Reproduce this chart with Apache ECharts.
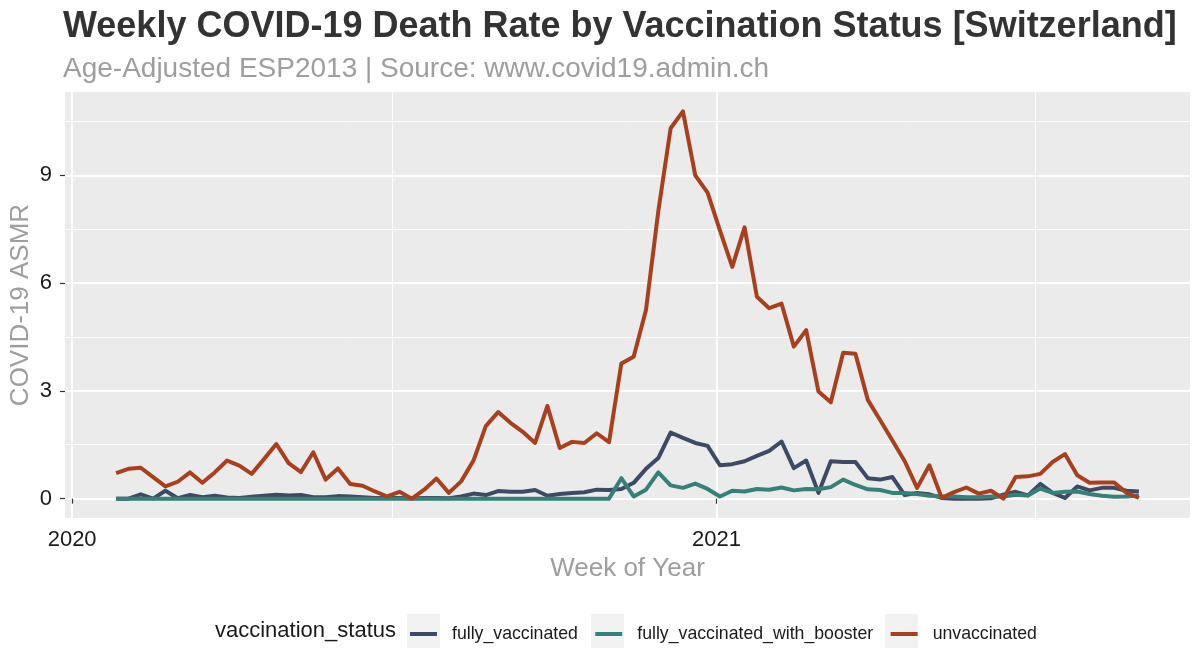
<!DOCTYPE html>
<html>
<head>
<meta charset="utf-8">
<script src="https://cdn.jsdelivr.net/npm/echarts@6/dist/echarts.min.js"></script>
<style>
  html, body { margin: 0; padding: 0; background: #fff; }
  #chart { width: 1200px; height: 670px; }
</style>
</head>
<body>
<div id="chart"></div>
<script>
// weekly series, first week starts 2020-01-26
const firstWeek = Date.UTC(2020, 0, 26);
const DAY = 86400000;

const fullyVaccinated = [
  0.00, 0.00, 0.12, 0.00, 0.22, 0.01, 0.10, 0.04, 0.08, 0.03,
  0.02, 0.05, 0.08, 0.11, 0.09, 0.10, 0.04, 0.04, 0.07, 0.06,
  0.04, 0.02, 0.02, 0.02, 0.01, 0.02, 0.02, 0.01, 0.06, 0.14,
  0.10, 0.21, 0.19, 0.19, 0.24, 0.08, 0.13, 0.16, 0.18, 0.25,
  0.24, 0.27, 0.44, 0.83, 1.13, 1.84, 1.69, 1.55, 1.47, 0.93,
  0.96, 1.04, 1.19, 1.33, 1.59, 0.85, 1.06, 0.16, 1.04, 1.02,
  1.02, 0.57, 0.53, 0.60, 0.10, 0.16, 0.12, 0.02, 0.00, 0.00,
  0.00, 0.01, 0.11, 0.19, 0.09, 0.41, 0.16, 0.02, 0.34, 0.23,
  0.30, 0.30, 0.22, 0.20
];

const withBooster = [
  0, 0, 0, 0, 0, 0, 0, 0, 0, 0,
  0, 0, 0, 0, 0, 0, 0, 0, 0, 0,
  0, 0, 0, 0, 0, 0, 0, 0, 0, 0,
  0, 0, 0, 0, 0, 0, 0, 0, 0, 0,
  0.00, 0.57, 0.06, 0.25, 0.73, 0.37, 0.30, 0.42, 0.27, 0.06,
  0.22, 0.20, 0.27, 0.25, 0.31, 0.23, 0.27, 0.26, 0.32, 0.53,
  0.38, 0.26, 0.24, 0.16, 0.16, 0.13, 0.08, 0.06, 0.06, 0.04,
  0.04, 0.06, 0.06, 0.11, 0.09, 0.28, 0.16, 0.19, 0.20, 0.13,
  0.08, 0.05, 0.06, 0.09
];

const unvaccinated = [
  0.71, 0.83, 0.86, 0.60, 0.34, 0.47, 0.73, 0.44, 0.73, 1.06,
  0.92, 0.69, 1.10, 1.52, 0.99, 0.74, 1.29, 0.53, 0.84, 0.41,
  0.36, 0.20, 0.06, 0.19, 0.00, 0.25, 0.56, 0.16, 0.48, 1.06,
  2.02, 2.41, 2.11, 1.86, 1.55, 2.58, 1.41, 1.58, 1.55, 1.82,
  1.57, 3.76, 3.95, 5.25, 8.00, 10.31, 10.78, 9.00, 8.52, 7.47,
  6.45, 7.55, 5.62, 5.30, 5.43, 4.23, 4.69, 2.98, 2.68, 4.06,
  4.03, 2.75, 2.19, 1.62, 1.04, 0.30, 0.93, 0.02, 0.18, 0.31,
  0.14, 0.22, 0.00, 0.60, 0.62, 0.69, 1.02, 1.24, 0.65, 0.44,
  0.45, 0.45, 0.16, 0.02
];

const weeks = unvaccinated.map((_, i) => firstWeek + i * 7 * DAY);

const seriesNames = ["fully_vaccinated", "fully_vaccinated_with_booster", "unvaccinated"];
const seriesColors = ["#3E4A64", "#368078", "#A8401E"];
const seriesValues = [fullyVaccinated, withBooster, unvaccinated];

const yTicks = [0, 3, 6, 9];
const yMinor = [1.5, 4.5, 7.5, 10.5];
const xTicks = [Date.UTC(2020, 0, 1), Date.UTC(2021, 0, 1)];
const xMinor = [Date.UTC(2020, 6, 1), Date.UTC(2021, 6, 1)];

// ggplot style 5% expansion
const xSpan = weeks[weeks.length - 1] - weeks[0];
const xMin = weeks[0] - xSpan * 0.05;
const xMax = weeks[weeks.length - 1] + xSpan * 0.05;
const yTop = Math.max(...unvaccinated);
const yMin = -yTop * 0.05;
const yMax = yTop * 1.05;

const font = "'Liberation Sans', Arial, Helvetica, sans-serif";
const chart = echarts.init(document.getElementById("chart"));

chart.setOption({
  animation: false,
  backgroundColor: "#fff",
  textStyle: { fontFamily: font },
  title: [
    {
      text: "Weekly COVID-19 Death Rate by Vaccination Status [Switzerland]",
      left: 58, top: 4,
      textStyle: { fontSize: 36, fontWeight: "bold", color: "#333", fontFamily: font }
    },
    {
      text: "Age-Adjusted ESP2013 | Source: www.covid19.admin.ch",
      left: 58, top: 50,
      textStyle: { fontSize: 28, fontWeight: "normal", color: "#9E9E9E", fontFamily: font }
    }
  ],
  grid: {
    left: 65, right: 10, top: 92, bottom: 152,
    outerBoundsMode: "none",
    show: true, backgroundColor: "#EBEBEB", borderWidth: 0
  },
  legend: {
    data: seriesNames,
    left: 405, top: 620,
    icon: "rect", itemWidth: 27, itemHeight: 4, itemGap: 17.4,
    textStyle: { fontSize: 17.7, color: "#1A1A1A", padding: [0, 0, 0, 10], fontFamily: font }
  },
  graphic: [
    { type: "text", left: 215, top: 620, z: 10,
      style: { text: "vaccination_status", fontSize: 22, fill: "#1A1A1A", fontFamily: font } },
    { type: "rect", shape: { x: 407, y: 614, width: 33, height: 34 }, style: { fill: "#F2F2F2" }, z: -1 },
    { type: "rect", shape: { x: 591, y: 614, width: 33, height: 34 }, style: { fill: "#F2F2F2" }, z: -1 },
    { type: "rect", shape: { x: 885, y: 614, width: 33, height: 34 }, style: { fill: "#F2F2F2" }, z: -1 }
  ],
  xAxis: [
    {
      type: "value", min: xMin, max: xMax,
      name: "Week of Year", nameLocation: "middle", nameGap: 34,
      nameTextStyle: { fontSize: 26, color: "#9E9E9E", fontFamily: font },
      axisLine: { show: false },
      axisTick: { show: true, length: 5, customValues: xTicks, lineStyle: { color: "#333", width: 1.2 } },
      axisLabel: {
        customValues: xTicks, fontSize: 22, color: "#1A1A1A", margin: 11, fontFamily: font,
        formatter: v => String(new Date(v).getUTCFullYear())
      },
      splitLine: { show: true, lineStyle: { color: "#fff", width: 1.8 } }
    },
    {
      type: "value", min: xMin, max: xMax, gridIndex: 0,
      axisLine: { show: false },
      axisTick: { show: false, customValues: xMinor },
      axisLabel: { show: false, customValues: xMinor },
      splitLine: { show: true, lineStyle: { color: "#fff", width: 0.9 } }
    }
  ],
  yAxis: [
    {
      type: "value", min: yMin, max: yMax,
      name: "COVID-19 ASMR", nameLocation: "middle", nameGap: 31, nameMoveOverlap: false,
      nameTextStyle: { fontSize: 26, color: "#9E9E9E", fontFamily: font },
      axisLine: { show: false },
      axisTick: { show: true, length: 5, customValues: yTicks, lineStyle: { color: "#333", width: 1.2 } },
      axisLabel: { customValues: yTicks, fontSize: 22, color: "#1A1A1A", margin: 13, fontFamily: font },
      splitLine: { show: true, lineStyle: { color: "#fff", width: 1.8 } }
    },
    {
      type: "value", min: yMin, max: yMax, gridIndex: 0,
      axisLine: { show: false },
      axisTick: { show: false, customValues: yMinor },
      axisLabel: { show: false, customValues: yMinor },
      splitLine: { show: true, lineStyle: { color: "#fff", width: 0.9 } }
    }
  ],
  series: seriesNames.map((name, k) => ({
    name,
    type: "line",
    xAxisIndex: 0,
    yAxisIndex: 0,
    symbol: "none",
    color: seriesColors[k],
    lineStyle: { width: 4, color: seriesColors[k], join: "round" },
    data: weeks.map((t, i) => [t, seriesValues[k][i]])
  }))
});
</script>
</body>
</html>
